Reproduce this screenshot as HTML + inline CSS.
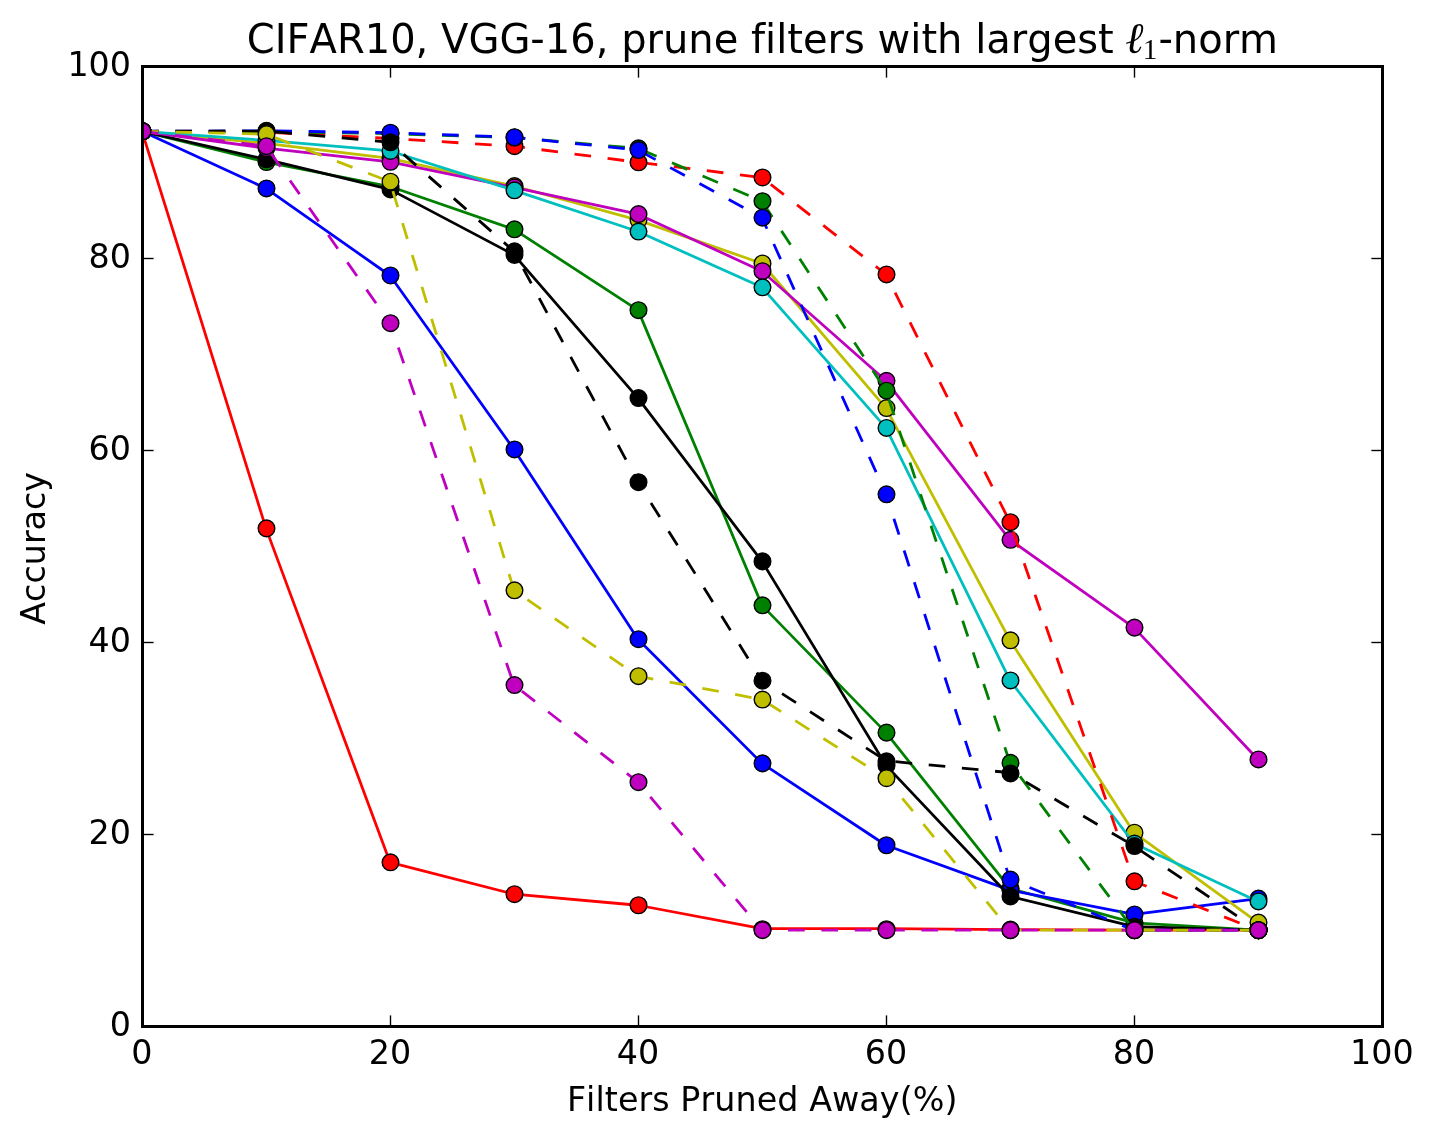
<!DOCTYPE html>
<html lang="en"><head><meta charset="utf-8"><title>CIFAR10, VGG-16, prune filters with largest l1-norm</title>
<style>html,body{margin:0;padding:0;background:#fff}body{width:1433px;height:1137px;overflow:hidden}svg{display:block}text{font-family:"DejaVu Sans","Bitstream Vera Sans","Liberation Sans",sans-serif;fill:#000;font-kerning:none;font-variant-ligatures:none}.tk{font-size:33.33px}.lb{font-size:33.33px}.tt{font-size:40px}</style></head><body>
<svg width="1433" height="1137" viewBox="0 0 1433 1137">
<rect x="0" y="0" width="1433" height="1137" fill="#ffffff"/>
<defs><clipPath id="ax"><rect x="142.5" y="66.5" width="1240.0" height="960.0"/></clipPath></defs>
<g clip-path="url(#ax)">
<g id="S_r"><polyline points="142.00,131.30 266.00,528.36 390.00,862.34 514.00,894.21 638.00,905.25 762.00,928.68 886.00,928.68 1010.00,929.54 1134.00,930.12 1258.00,930.21" fill="none" stroke="#ff0000" stroke-width="2.78" stroke-linejoin="round" stroke-linecap="butt"/>
<circle cx="142.50" cy="131.30" r="8.33" fill="#ff0000" stroke="#000" stroke-width="1.39"/>
<circle cx="266.50" cy="528.36" r="8.33" fill="#ff0000" stroke="#000" stroke-width="1.39"/>
<circle cx="390.50" cy="862.34" r="8.33" fill="#ff0000" stroke="#000" stroke-width="1.39"/>
<circle cx="514.50" cy="894.21" r="8.33" fill="#ff0000" stroke="#000" stroke-width="1.39"/>
<circle cx="638.50" cy="905.25" r="8.33" fill="#ff0000" stroke="#000" stroke-width="1.39"/>
<circle cx="762.50" cy="929.21" r="8.33" fill="#ff0000" stroke="#000" stroke-width="1.39"/>
<circle cx="886.50" cy="929.21" r="8.33" fill="#ff0000" stroke="#000" stroke-width="1.39"/>
<circle cx="1010.50" cy="929.64" r="8.33" fill="#ff0000" stroke="#000" stroke-width="1.39"/>
<circle cx="1134.50" cy="930.12" r="8.33" fill="#ff0000" stroke="#000" stroke-width="1.39"/>
<circle cx="1258.50" cy="930.21" r="8.33" fill="#ff0000" stroke="#000" stroke-width="1.39"/>
</g>
<g id="S_g"><polyline points="142.00,131.30 266.00,162.02 390.00,186.50 514.00,229.32 638.00,310.15 762.00,605.35 886.00,732.64 1010.00,888.45 1134.00,922.82 1258.00,930.21" fill="none" stroke="#008000" stroke-width="2.78" stroke-linejoin="round" stroke-linecap="butt"/>
<circle cx="142.50" cy="131.30" r="8.33" fill="#008000" stroke="#000" stroke-width="1.39"/>
<circle cx="266.50" cy="162.02" r="8.33" fill="#008000" stroke="#000" stroke-width="1.39"/>
<circle cx="390.50" cy="186.50" r="8.33" fill="#008000" stroke="#000" stroke-width="1.39"/>
<circle cx="514.50" cy="229.32" r="8.33" fill="#008000" stroke="#000" stroke-width="1.39"/>
<circle cx="638.50" cy="310.15" r="8.33" fill="#008000" stroke="#000" stroke-width="1.39"/>
<circle cx="762.50" cy="605.35" r="8.33" fill="#008000" stroke="#000" stroke-width="1.39"/>
<circle cx="886.50" cy="732.64" r="8.33" fill="#008000" stroke="#000" stroke-width="1.39"/>
<circle cx="1010.50" cy="888.45" r="8.33" fill="#008000" stroke="#000" stroke-width="1.39"/>
<circle cx="1134.50" cy="922.82" r="8.33" fill="#008000" stroke="#000" stroke-width="1.39"/>
<circle cx="1258.50" cy="930.21" r="8.33" fill="#008000" stroke="#000" stroke-width="1.39"/>
</g>
<g id="S_b"><polyline points="142.00,131.30 266.00,188.42 390.00,275.49 514.00,449.44 638.00,639.24 762.00,763.36 886.00,845.25 1010.00,890.18 1134.00,914.47 1258.00,898.63" fill="none" stroke="#0000ff" stroke-width="2.78" stroke-linejoin="round" stroke-linecap="butt"/>
<circle cx="142.50" cy="131.30" r="8.33" fill="#0000ff" stroke="#000" stroke-width="1.39"/>
<circle cx="266.50" cy="188.42" r="8.33" fill="#0000ff" stroke="#000" stroke-width="1.39"/>
<circle cx="390.50" cy="275.49" r="8.33" fill="#0000ff" stroke="#000" stroke-width="1.39"/>
<circle cx="514.50" cy="449.44" r="8.33" fill="#0000ff" stroke="#000" stroke-width="1.39"/>
<circle cx="638.50" cy="639.24" r="8.33" fill="#0000ff" stroke="#000" stroke-width="1.39"/>
<circle cx="762.50" cy="763.36" r="8.33" fill="#0000ff" stroke="#000" stroke-width="1.39"/>
<circle cx="886.50" cy="845.25" r="8.33" fill="#0000ff" stroke="#000" stroke-width="1.39"/>
<circle cx="1010.50" cy="890.18" r="8.33" fill="#0000ff" stroke="#000" stroke-width="1.39"/>
<circle cx="1134.50" cy="914.47" r="8.33" fill="#0000ff" stroke="#000" stroke-width="1.39"/>
<circle cx="1258.50" cy="898.63" r="8.33" fill="#0000ff" stroke="#000" stroke-width="1.39"/>
</g>
<g id="S_k"><polyline points="142.00,131.30 266.00,159.33 390.00,189.38 514.00,254.85 638.00,398.08 762.00,561.38 886.00,765.38 1010.00,896.42 1134.00,926.66 1258.00,930.21" fill="none" stroke="#000000" stroke-width="2.78" stroke-linejoin="round" stroke-linecap="butt"/>
<circle cx="142.50" cy="131.30" r="8.33" fill="#000000" stroke="#000" stroke-width="1.39"/>
<circle cx="266.50" cy="159.33" r="8.33" fill="#000000" stroke="#000" stroke-width="1.39"/>
<circle cx="390.50" cy="189.38" r="8.33" fill="#000000" stroke="#000" stroke-width="1.39"/>
<circle cx="514.50" cy="254.85" r="8.33" fill="#000000" stroke="#000" stroke-width="1.39"/>
<circle cx="638.50" cy="398.08" r="8.33" fill="#000000" stroke="#000" stroke-width="1.39"/>
<circle cx="762.50" cy="561.38" r="8.33" fill="#000000" stroke="#000" stroke-width="1.39"/>
<circle cx="886.50" cy="765.38" r="8.33" fill="#000000" stroke="#000" stroke-width="1.39"/>
<circle cx="1010.50" cy="896.42" r="8.33" fill="#000000" stroke="#000" stroke-width="1.39"/>
<circle cx="1134.50" cy="926.66" r="8.33" fill="#000000" stroke="#000" stroke-width="1.39"/>
<circle cx="1258.50" cy="930.21" r="8.33" fill="#000000" stroke="#000" stroke-width="1.39"/>
</g>
<g id="S_y"><polyline points="142.00,131.30 266.00,143.30 390.00,158.47 514.00,186.02 638.00,220.10 762.00,263.49 886.00,408.07 1010.00,640.29 1134.00,832.68 1258.00,922.53" fill="none" stroke="#bfbf00" stroke-width="2.78" stroke-linejoin="round" stroke-linecap="butt"/>
<circle cx="142.50" cy="131.30" r="8.33" fill="#bfbf00" stroke="#000" stroke-width="1.39"/>
<circle cx="266.50" cy="143.30" r="8.33" fill="#bfbf00" stroke="#000" stroke-width="1.39"/>
<circle cx="390.50" cy="158.47" r="8.33" fill="#bfbf00" stroke="#000" stroke-width="1.39"/>
<circle cx="514.50" cy="186.02" r="8.33" fill="#bfbf00" stroke="#000" stroke-width="1.39"/>
<circle cx="638.50" cy="220.10" r="8.33" fill="#bfbf00" stroke="#000" stroke-width="1.39"/>
<circle cx="762.50" cy="263.49" r="8.33" fill="#bfbf00" stroke="#000" stroke-width="1.39"/>
<circle cx="886.50" cy="408.07" r="8.33" fill="#bfbf00" stroke="#000" stroke-width="1.39"/>
<circle cx="1010.50" cy="640.29" r="8.33" fill="#bfbf00" stroke="#000" stroke-width="1.39"/>
<circle cx="1134.50" cy="832.68" r="8.33" fill="#bfbf00" stroke="#000" stroke-width="1.39"/>
<circle cx="1258.50" cy="922.53" r="8.33" fill="#bfbf00" stroke="#000" stroke-width="1.39"/>
</g>
<g id="S_m"><polyline points="142.00,131.30 266.00,148.10 390.00,161.83 514.00,187.46 638.00,214.15 762.00,271.17 886.00,380.80 1010.00,539.78 1134.00,627.62 1258.00,759.43" fill="none" stroke="#bf00bf" stroke-width="2.78" stroke-linejoin="round" stroke-linecap="butt"/>
<circle cx="142.50" cy="131.30" r="8.33" fill="#bf00bf" stroke="#000" stroke-width="1.39"/>
<circle cx="266.50" cy="148.10" r="8.33" fill="#bf00bf" stroke="#000" stroke-width="1.39"/>
<circle cx="390.50" cy="161.83" r="8.33" fill="#bf00bf" stroke="#000" stroke-width="1.39"/>
<circle cx="514.50" cy="187.46" r="8.33" fill="#bf00bf" stroke="#000" stroke-width="1.39"/>
<circle cx="638.50" cy="214.15" r="8.33" fill="#bf00bf" stroke="#000" stroke-width="1.39"/>
<circle cx="762.50" cy="271.17" r="8.33" fill="#bf00bf" stroke="#000" stroke-width="1.39"/>
<circle cx="886.50" cy="380.80" r="8.33" fill="#bf00bf" stroke="#000" stroke-width="1.39"/>
<circle cx="1010.50" cy="539.78" r="8.33" fill="#bf00bf" stroke="#000" stroke-width="1.39"/>
<circle cx="1134.50" cy="627.62" r="8.33" fill="#bf00bf" stroke="#000" stroke-width="1.39"/>
<circle cx="1258.50" cy="759.43" r="8.33" fill="#bf00bf" stroke="#000" stroke-width="1.39"/>
</g>
<g id="S_c"><polyline points="142.00,131.30 266.00,140.42 390.00,150.98 514.00,190.34 638.00,231.52 762.00,287.30 886.00,427.94 1010.00,680.42 1134.00,843.52 1258.00,901.41" fill="none" stroke="#00bfbf" stroke-width="2.78" stroke-linejoin="round" stroke-linecap="butt"/>
<circle cx="142.50" cy="131.30" r="8.33" fill="#00bfbf" stroke="#000" stroke-width="1.39"/>
<circle cx="266.50" cy="140.42" r="8.33" fill="#00bfbf" stroke="#000" stroke-width="1.39"/>
<circle cx="390.50" cy="150.98" r="8.33" fill="#00bfbf" stroke="#000" stroke-width="1.39"/>
<circle cx="514.50" cy="190.34" r="8.33" fill="#00bfbf" stroke="#000" stroke-width="1.39"/>
<circle cx="638.50" cy="231.52" r="8.33" fill="#00bfbf" stroke="#000" stroke-width="1.39"/>
<circle cx="762.50" cy="287.30" r="8.33" fill="#00bfbf" stroke="#000" stroke-width="1.39"/>
<circle cx="886.50" cy="427.94" r="8.33" fill="#00bfbf" stroke="#000" stroke-width="1.39"/>
<circle cx="1010.50" cy="680.42" r="8.33" fill="#00bfbf" stroke="#000" stroke-width="1.39"/>
<circle cx="1134.50" cy="843.52" r="8.33" fill="#00bfbf" stroke="#000" stroke-width="1.39"/>
<circle cx="1258.50" cy="901.41" r="8.33" fill="#00bfbf" stroke="#000" stroke-width="1.39"/>
</g>
<g id="D_r"><polyline points="142.00,131.30 266.00,132.26 390.00,138.50 514.00,146.18 638.00,162.31 762.00,177.48 886.00,274.44 1010.00,522.21 1134.00,881.35 1258.00,930.21" fill="none" stroke="#ff0000" stroke-width="2.78" stroke-linejoin="miter" stroke-linecap="butt" stroke-dasharray="16.67 16.67"/>
<circle cx="142.50" cy="131.30" r="8.33" fill="#ff0000" stroke="#000" stroke-width="1.39"/>
<circle cx="266.50" cy="132.26" r="8.33" fill="#ff0000" stroke="#000" stroke-width="1.39"/>
<circle cx="390.50" cy="138.50" r="8.33" fill="#ff0000" stroke="#000" stroke-width="1.39"/>
<circle cx="514.50" cy="146.18" r="8.33" fill="#ff0000" stroke="#000" stroke-width="1.39"/>
<circle cx="638.50" cy="162.31" r="8.33" fill="#ff0000" stroke="#000" stroke-width="1.39"/>
<circle cx="762.50" cy="177.48" r="8.33" fill="#ff0000" stroke="#000" stroke-width="1.39"/>
<circle cx="886.50" cy="274.44" r="8.33" fill="#ff0000" stroke="#000" stroke-width="1.39"/>
<circle cx="1010.50" cy="522.21" r="8.33" fill="#ff0000" stroke="#000" stroke-width="1.39"/>
<circle cx="1134.50" cy="881.35" r="8.33" fill="#ff0000" stroke="#000" stroke-width="1.39"/>
<circle cx="1258.50" cy="930.21" r="8.33" fill="#ff0000" stroke="#000" stroke-width="1.39"/>
</g>
<g id="D_g"><polyline points="142.00,131.30 266.00,131.78 390.00,133.70 514.00,137.54 638.00,148.39 762.00,201.19 886.00,390.69 1010.00,762.88 1134.00,930.21 1258.00,930.21" fill="none" stroke="#008000" stroke-width="2.78" stroke-linejoin="miter" stroke-linecap="butt" stroke-dasharray="16.67 16.67"/>
<circle cx="142.50" cy="131.30" r="8.33" fill="#008000" stroke="#000" stroke-width="1.39"/>
<circle cx="266.50" cy="131.78" r="8.33" fill="#008000" stroke="#000" stroke-width="1.39"/>
<circle cx="390.50" cy="133.70" r="8.33" fill="#008000" stroke="#000" stroke-width="1.39"/>
<circle cx="514.50" cy="137.54" r="8.33" fill="#008000" stroke="#000" stroke-width="1.39"/>
<circle cx="638.50" cy="148.39" r="8.33" fill="#008000" stroke="#000" stroke-width="1.39"/>
<circle cx="762.50" cy="201.19" r="8.33" fill="#008000" stroke="#000" stroke-width="1.39"/>
<circle cx="886.50" cy="390.69" r="8.33" fill="#008000" stroke="#000" stroke-width="1.39"/>
<circle cx="1010.50" cy="762.88" r="8.33" fill="#008000" stroke="#000" stroke-width="1.39"/>
<circle cx="1134.50" cy="930.21" r="8.33" fill="#008000" stroke="#000" stroke-width="1.39"/>
<circle cx="1258.50" cy="930.21" r="8.33" fill="#008000" stroke="#000" stroke-width="1.39"/>
</g>
<g id="D_b"><polyline points="142.00,131.30 266.00,130.82 390.00,132.74 514.00,137.25 638.00,150.02 762.00,217.70 886.00,494.28 1010.00,879.52 1134.00,930.21 1258.00,930.21" fill="none" stroke="#0000ff" stroke-width="2.78" stroke-linejoin="miter" stroke-linecap="butt" stroke-dasharray="16.67 16.67"/>
<circle cx="142.50" cy="131.30" r="8.33" fill="#0000ff" stroke="#000" stroke-width="1.39"/>
<circle cx="266.50" cy="130.82" r="8.33" fill="#0000ff" stroke="#000" stroke-width="1.39"/>
<circle cx="390.50" cy="132.74" r="8.33" fill="#0000ff" stroke="#000" stroke-width="1.39"/>
<circle cx="514.50" cy="137.25" r="8.33" fill="#0000ff" stroke="#000" stroke-width="1.39"/>
<circle cx="638.50" cy="150.02" r="8.33" fill="#0000ff" stroke="#000" stroke-width="1.39"/>
<circle cx="762.50" cy="217.70" r="8.33" fill="#0000ff" stroke="#000" stroke-width="1.39"/>
<circle cx="886.50" cy="494.28" r="8.33" fill="#0000ff" stroke="#000" stroke-width="1.39"/>
<circle cx="1010.50" cy="879.52" r="8.33" fill="#0000ff" stroke="#000" stroke-width="1.39"/>
<circle cx="1134.50" cy="930.21" r="8.33" fill="#0000ff" stroke="#000" stroke-width="1.39"/>
<circle cx="1258.50" cy="930.21" r="8.33" fill="#0000ff" stroke="#000" stroke-width="1.39"/>
</g>
<g id="D_k"><polyline points="142.00,131.30 266.00,131.01 390.00,142.34 514.00,251.30 638.00,482.18 762.00,680.71 886.00,760.77 1010.00,772.68 1134.00,846.02 1258.00,930.21" fill="none" stroke="#000000" stroke-width="2.78" stroke-linejoin="miter" stroke-linecap="butt" stroke-dasharray="16.67 16.67"/>
<circle cx="142.50" cy="131.30" r="8.33" fill="#000000" stroke="#000" stroke-width="1.39"/>
<circle cx="266.50" cy="131.01" r="8.33" fill="#000000" stroke="#000" stroke-width="1.39"/>
<circle cx="390.50" cy="142.34" r="8.33" fill="#000000" stroke="#000" stroke-width="1.39"/>
<circle cx="514.50" cy="251.30" r="8.33" fill="#000000" stroke="#000" stroke-width="1.39"/>
<circle cx="638.50" cy="482.18" r="8.33" fill="#000000" stroke="#000" stroke-width="1.39"/>
<circle cx="762.50" cy="680.71" r="8.33" fill="#000000" stroke="#000" stroke-width="1.39"/>
<circle cx="886.50" cy="761.35" r="8.33" fill="#000000" stroke="#000" stroke-width="1.39"/>
<circle cx="1010.50" cy="773.44" r="8.33" fill="#000000" stroke="#000" stroke-width="1.39"/>
<circle cx="1134.50" cy="846.02" r="8.33" fill="#000000" stroke="#000" stroke-width="1.39"/>
<circle cx="1258.50" cy="930.21" r="8.33" fill="#000000" stroke="#000" stroke-width="1.39"/>
</g>
<g id="D_y"><polyline points="142.00,131.30 266.00,134.18 390.00,181.70 514.00,590.28 638.00,676.20 762.00,699.52 886.00,778.24 1010.00,930.21 1134.00,930.21 1258.00,930.21" fill="none" stroke="#bfbf00" stroke-width="2.78" stroke-linejoin="miter" stroke-linecap="butt" stroke-dasharray="16.67 16.67"/>
<circle cx="142.50" cy="131.30" r="8.33" fill="#bfbf00" stroke="#000" stroke-width="1.39"/>
<circle cx="266.50" cy="134.18" r="8.33" fill="#bfbf00" stroke="#000" stroke-width="1.39"/>
<circle cx="390.50" cy="181.70" r="8.33" fill="#bfbf00" stroke="#000" stroke-width="1.39"/>
<circle cx="514.50" cy="590.28" r="8.33" fill="#bfbf00" stroke="#000" stroke-width="1.39"/>
<circle cx="638.50" cy="676.20" r="8.33" fill="#bfbf00" stroke="#000" stroke-width="1.39"/>
<circle cx="762.50" cy="699.52" r="8.33" fill="#bfbf00" stroke="#000" stroke-width="1.39"/>
<circle cx="886.50" cy="778.24" r="8.33" fill="#bfbf00" stroke="#000" stroke-width="1.39"/>
<circle cx="1010.50" cy="930.21" r="8.33" fill="#bfbf00" stroke="#000" stroke-width="1.39"/>
<circle cx="1134.50" cy="930.21" r="8.33" fill="#bfbf00" stroke="#000" stroke-width="1.39"/>
<circle cx="1258.50" cy="930.21" r="8.33" fill="#bfbf00" stroke="#000" stroke-width="1.39"/>
</g>
<g id="D_m"><polyline points="142.00,131.30 266.00,146.18 390.00,323.20 514.00,685.03 638.00,782.18 762.00,930.21 886.00,930.21 1010.00,930.21 1134.00,930.21 1258.00,930.21" fill="none" stroke="#bf00bf" stroke-width="2.78" stroke-linejoin="miter" stroke-linecap="butt" stroke-dasharray="16.67 16.67"/>
<circle cx="142.50" cy="131.30" r="8.33" fill="#bf00bf" stroke="#000" stroke-width="1.39"/>
<circle cx="266.50" cy="146.18" r="8.33" fill="#bf00bf" stroke="#000" stroke-width="1.39"/>
<circle cx="390.50" cy="323.20" r="8.33" fill="#bf00bf" stroke="#000" stroke-width="1.39"/>
<circle cx="514.50" cy="685.03" r="8.33" fill="#bf00bf" stroke="#000" stroke-width="1.39"/>
<circle cx="638.50" cy="782.18" r="8.33" fill="#bf00bf" stroke="#000" stroke-width="1.39"/>
<circle cx="762.50" cy="930.21" r="8.33" fill="#bf00bf" stroke="#000" stroke-width="1.39"/>
<circle cx="886.50" cy="930.21" r="8.33" fill="#bf00bf" stroke="#000" stroke-width="1.39"/>
<circle cx="1010.50" cy="930.21" r="8.33" fill="#bf00bf" stroke="#000" stroke-width="1.39"/>
<circle cx="1134.50" cy="930.21" r="8.33" fill="#bf00bf" stroke="#000" stroke-width="1.39"/>
<circle cx="1258.50" cy="930.21" r="8.33" fill="#bf00bf" stroke="#000" stroke-width="1.39"/>
</g>
</g>
<g stroke="#000" stroke-width="1.39" fill="none">
<line x1="390.5" y1="1026.5" x2="390.5" y2="1015.39"/>
<line x1="390.5" y1="66.5" x2="390.5" y2="77.61"/>
<line x1="142.5" y1="834.5" x2="153.61" y2="834.5"/>
<line x1="1382.5" y1="834.5" x2="1371.39" y2="834.5"/>
<line x1="638.5" y1="1026.5" x2="638.5" y2="1015.39"/>
<line x1="638.5" y1="66.5" x2="638.5" y2="77.61"/>
<line x1="142.5" y1="642.5" x2="153.61" y2="642.5"/>
<line x1="1382.5" y1="642.5" x2="1371.39" y2="642.5"/>
<line x1="886.5" y1="1026.5" x2="886.5" y2="1015.39"/>
<line x1="886.5" y1="66.5" x2="886.5" y2="77.61"/>
<line x1="142.5" y1="450.5" x2="153.61" y2="450.5"/>
<line x1="1382.5" y1="450.5" x2="1371.39" y2="450.5"/>
<line x1="1134.5" y1="1026.5" x2="1134.5" y2="1015.39"/>
<line x1="1134.5" y1="66.5" x2="1134.5" y2="77.61"/>
<line x1="142.5" y1="258.5" x2="153.61" y2="258.5"/>
<line x1="1382.5" y1="258.5" x2="1371.39" y2="258.5"/>
</g>
<rect x="142.5" y="66.5" width="1240.0" height="960.0" fill="none" stroke="#000" stroke-width="3" shape-rendering="crispEdges"/>
<text class="tk" x="141.90" y="1064" text-anchor="middle">0</text>
<text class="tk" x="389.90" y="1064" text-anchor="middle">20</text>
<text class="tk" x="637.90" y="1064" text-anchor="middle">40</text>
<text class="tk" x="885.90" y="1064" text-anchor="middle">60</text>
<text class="tk" x="1133.90" y="1064" text-anchor="middle">80</text>
<text class="tk" x="1381.90" y="1064" text-anchor="middle">100</text>
<text class="tk" x="131.0" y="1036.00" text-anchor="end">0</text>
<text class="tk" x="131.0" y="844.00" text-anchor="end">20</text>
<text class="tk" x="131.0" y="652.00" text-anchor="end">40</text>
<text class="tk" x="131.0" y="460.00" text-anchor="end">60</text>
<text class="tk" x="131.0" y="268.00" text-anchor="end">80</text>
<text class="tk" x="131.0" y="76.00" text-anchor="end">100</text>
<text class="lb" x="762.2" y="1111.2" text-anchor="middle" style="letter-spacing:0.07px">Filters Pruned Away(%)</text>
<text class="lb" transform="translate(44.9 548.3) rotate(-90)" text-anchor="middle">Accuracy</text>
<text class="tt" x="246.8" y="52.9">CIFAR10, VGG-16, prune filters with largest <tspan id="ell" x="1125.2" style="font-family:'Liberation Serif',serif;font-style:italic;font-size:43.7px">ℓ</tspan><tspan id="sub1" x="1142.7" dy="5.6" style="font-family:'Liberation Serif',serif;font-size:29.3px">1</tspan><tspan id="norm" x="1158.4" dy="-5.6">-norm</tspan></text>
</svg></body></html>
